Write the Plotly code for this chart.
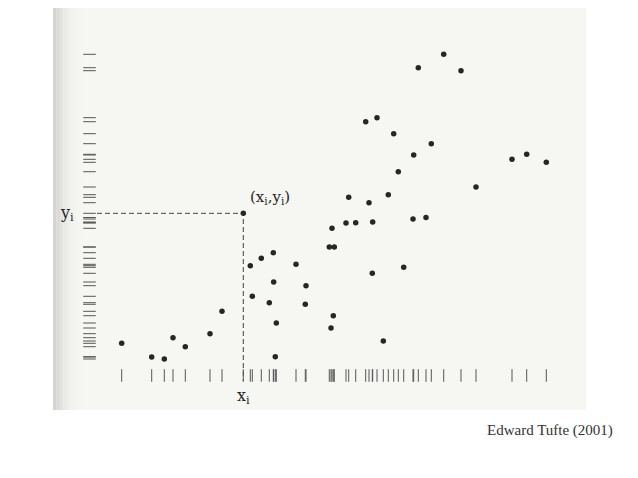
import plotly.graph_objects as go

# dot-dash plot: scatter points, with their x and y values repeated as rug ticks
x_vals = [68.7, 98.7, 111.3, 120.0, 132.3, 157.0, 169.0, 190.3, 197.3, 199.3,
          208.3, 220.3, 220.7, 216.3, 223.3, 222.3, 243.0, 253.0, 252.3, 276.3,
          281.3, 279.0, 293.0, 280.3, 278.0, 302.7, 319.7, 316.0, 319.3, 350.7,
          360.0, 373.0, 330.3, 390.7, 365.3, 408.0, 312.7, 324.0, 340.7, 378.3,
          360.7, 459.0, 473.7, 493.3, 345.3, 423.0, 295.7, 335.3]
y_vals = [66.7, 53.0, 51.0, 72.3, 63.3, 76.3, 98.7, 196.7, 144.3, 113.7,
          151.7, 157.3, 128.0, 107.3, 87.0, 53.3, 145.7, 124.3, 105.7, 163.0,
          163.0, 181.7, 187.0, 94.3, 82.0, 187.3, 188.0, 207.3, 136.7, 142.7,
          191.0, 192.5, 69.0, 355.7, 342.3, 339.3, 288.3, 292.3, 276.3, 266.3,
          255.0, 250.7, 255.7, 247.7, 238.3, 223.0, 212.7, 215.3]
hi = 7  # the point labelled (xi, yi)

ink = "#262626"
rug_x_pos = 34.5
rug_y_pos = 36.5

fig = go.Figure()

# dashed guides from the labelled point to the two rugs
fig.add_trace(go.Scatter(
    x=[44, x_vals[hi], x_vals[hi]], y=[y_vals[hi], y_vals[hi], 29],
    mode="lines", line=dict(color="#444", width=1, dash="5px,3px"),
    hoverinfo="skip"))

# rug along the bottom
fig.add_trace(go.Scatter(
    x=x_vals, y=[rug_x_pos] * len(x_vals), mode="markers",
    marker=dict(symbol="line-ns", size=9, line=dict(color="#555", width=1)),
    hoverinfo="skip"))

# rug along the left
fig.add_trace(go.Scatter(
    x=[rug_y_pos] * len(y_vals), y=y_vals, mode="markers",
    marker=dict(symbol="line-ew", size=9, line=dict(color="#555", width=1)),
    hoverinfo="skip"))

# the dots
fig.add_trace(go.Scatter(
    x=x_vals, y=y_vals, mode="markers",
    marker=dict(color=ink, size=5.5, line=dict(width=0))))

# darker shading on the left edge of the scan
shade = ["#d4d4d2", "#dcdcda", "#e3e3e0", "#e9e9e6", "#eeeeeb", "#f1f1ee", "#f3f3f0", "#f5f5f1"]
for i, c in enumerate(shade):
    fig.add_shape(type="rect", xref="x", yref="paper", layer="below",
                  x0=i * 3.5, x1=(i + 1) * 3.5, y0=0, y1=1,
                  fillcolor=c, line_width=0)

serif = "DejaVu Serif"
fig.add_annotation(x=14, y=y_vals[hi], text="y<sub>i</sub>", showarrow=False,
                   font=dict(family=serif, size=16, color=ink))
fig.add_annotation(x=x_vals[hi], y=14, text="x<sub>i</sub>", showarrow=False,
                   font=dict(family=serif, size=16, color=ink))
fig.add_annotation(x=x_vals[hi] + 27, y=y_vals[hi] + 16,
                   text="(x<sub>i</sub>,y<sub>i</sub>)", showarrow=False,
                   font=dict(family=serif, size=15, color=ink))
fig.add_annotation(x=1.054, y=-0.05, xref="paper", yref="paper",
                   xanchor="right", yanchor="middle", text="Edward Tufte (2001)",
                   showarrow=False, font=dict(family="Liberation Serif", size=15, color="#333"))

# the page body adds an 8px offset to the top-left corner
fig.update_layout(
    width=630, height=470,
    margin=dict(l=45, r=52, t=0, b=68),
    paper_bgcolor="white", plot_bgcolor="#f6f6f2",
    showlegend=False,
    xaxis=dict(range=[0, 533], visible=False, fixedrange=True),
    yaxis=dict(range=[0, 402], visible=False, fixedrange=True),
)

fig.write_html("out.html")
